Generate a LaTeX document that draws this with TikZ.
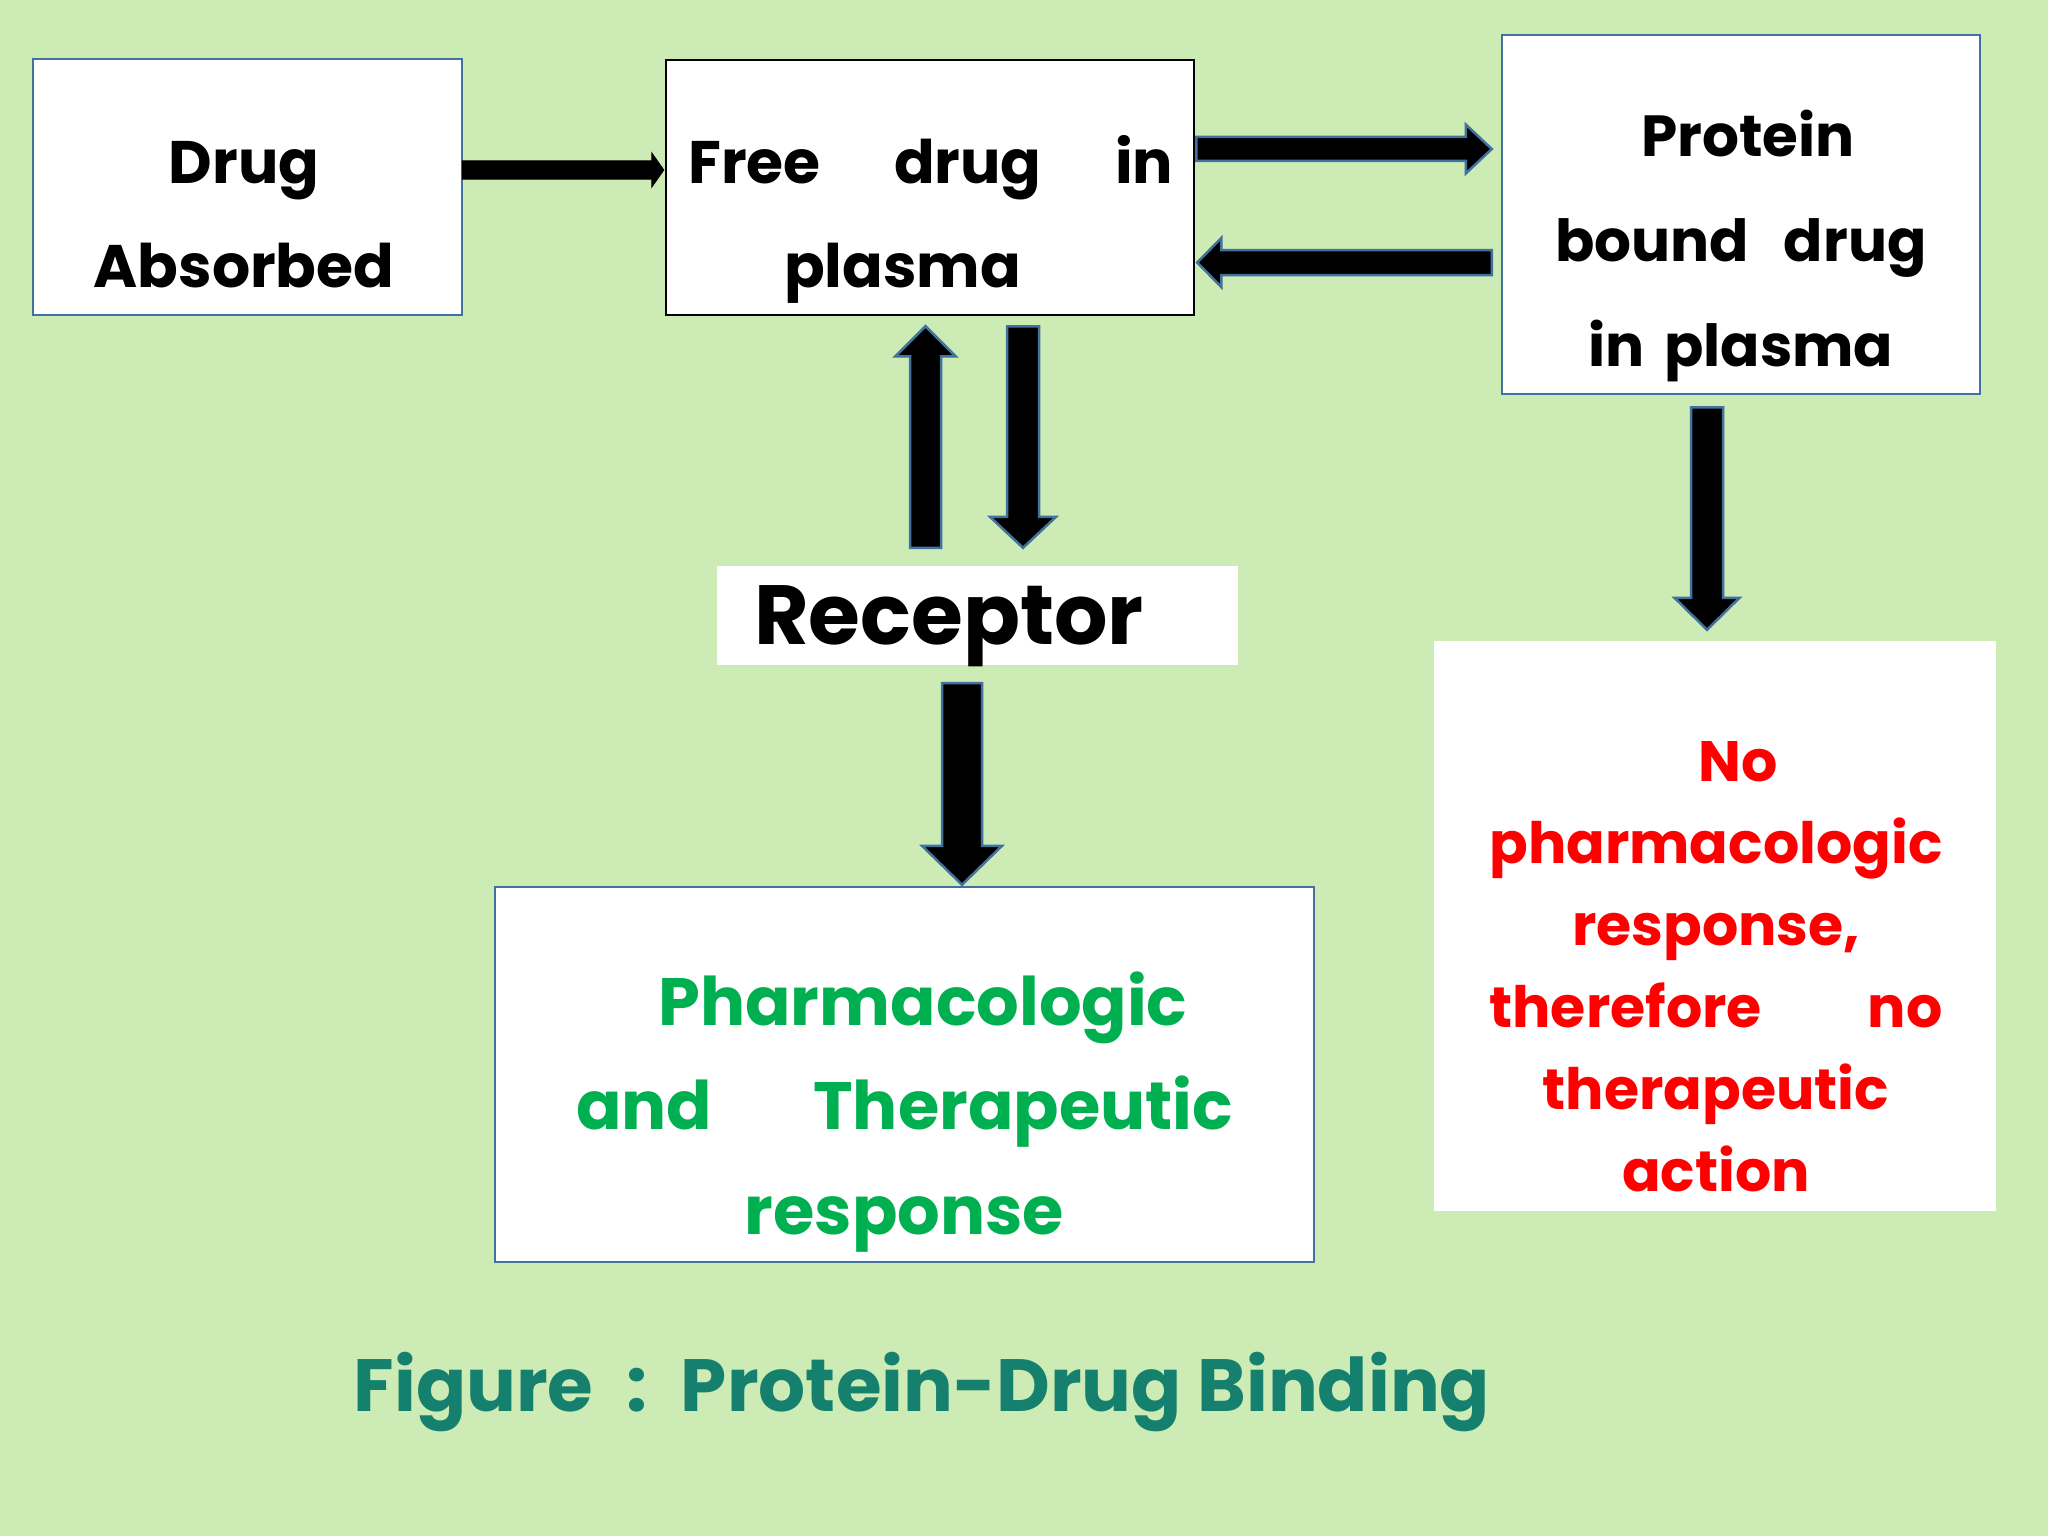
\documentclass[tikz,border=0pt]{standalone}
\usepackage{fontspec}
\setmainfont{Poppins}
\usetikzlibrary{calc}
\definecolor{bg}{HTML}{CDEBB4}
\definecolor{edge}{HTML}{41719C}
\definecolor{txtgreen}{HTML}{00B050}
\definecolor{txtred}{HTML}{FF0000}
\definecolor{captc}{HTML}{16806E}
\newlength{\jwidth}
\tikzset{
  box/.style={draw=edge, line width=2.5pt, fill=white, inner sep=0pt},
  plainbox/.style={fill=white, draw=none, inner sep=0pt},
  lbl/.style={inner sep=0pt, anchor=base, align=center},
  barrow/.style={fill=black, draw=edge, line width=2.5pt, line join=miter},
}
% horizontal block arrow: tail, tip, half shaft, half head, head length
\newcommand\harr[6][]{%
  \draw[barrow,#1] let \p1=#2, \p2=#3, \n1={sign(\x2-\x1)} in
  (\x1,\y1+#4) -- (\x2-\n1*#6,\y1+#4) -- (\x2-\n1*#6,\y1+#5) -- (\x2,\y1)
  -- (\x2-\n1*#6,\y1-#5) -- (\x2-\n1*#6,\y1-#4) -- (\x1,\y1-#4) -- cycle;}
% vertical block arrow
\newcommand\varr[6][]{%
  \draw[barrow,#1] let \p1=#2, \p2=#3, \n1={sign(\y2-\y1)} in
  (\x1+#4,\y1) -- (\x1+#4,\y2-\n1*#6) -- (\x1+#5,\y2-\n1*#6) -- (\x1,\y2)
  -- (\x1-#5,\y2-\n1*#6) -- (\x1-#4,\y2-\n1*#6) -- (\x1-#4,\y1) -- cycle;}
\begin{document}
\begin{tikzpicture}[x=1pt,y=-1pt]
\fill[bg] (0,0) rectangle (2048,1536);
\useasboundingbox (0,0) rectangle (2048,1536);

% boxes
\node[box, minimum width=429pt, minimum height=256pt] (abs) at (247.5,187) {};
\node[box, draw=black, minimum width=528pt, minimum height=255pt] (free) at (930,187.5) {};
\node[box, minimum width=478pt, minimum height=359pt] (prot) at (1741,214.5) {};
\node[plainbox, minimum width=521pt, minimum height=99pt] (rec) at (977.5,615.5) {};
\node[box, minimum width=819pt, minimum height=375pt] (pharm) at (904.5,1074.5) {};
\node[plainbox, minimum width=562pt, minimum height=570pt] (nop) at (1715,926) {};

% texts
\node[lbl, text width=420pt, font=\bfseries\fontsize{60}{104}\selectfont] (absT) at (244,183) {Drug\\Absorbed};
\node[lbl, anchor=base west, text width=485pt, align=left, font=\bfseries\fontsize{60}{104}\selectfont] (freeT) at (688,183)
  {\makebox[485pt]{Free\hfill drug\hfill in}\\\hspace*{96pt}plasma};
\node[lbl, text width=470pt, font=\bfseries\fontsize{58}{105}\selectfont] (protT) at (1741,157)
  {\hspace*{14pt}Protein\\bound\hspace{0.6em}drug\\in plasma};
\node[lbl, font=\bfseries\fontsize{84}{100}\selectfont] (recT) at (949,644) {Receptor};
\node[lbl, text width=800pt, text=txtgreen, font=\bfseries\fontsize{67}{104.5}\selectfont] (pharmT) at (904.5,1025)
  {\hspace*{37pt}Pharmacologic\\\makebox[657pt]{and\hfill Therapeutic}\\response};
\node[lbl, text width=550pt, text=txtred, font=\bfseries\fontsize{57}{82}\selectfont] (nopT) at (1716,781)
  {\hspace*{44pt}No\\pharmacologic\\response,\\\settowidth{\jwidth}{pharmacologic}\makebox[\jwidth]{therefore\hfill no}\\therapeutic\\action};
\node[lbl, text=captc, font=\bfseries\fontsize{74}{90}\selectfont] (cap) at (922,1411) {Figure\hspace{0.45em}:\hspace{0.45em}Protein-Drug Binding};

% connectors (block arrows)
\harr[draw=black, line width=1pt]{($(abs.east)+(-1,-17)$)}{($(free.west)+(-1,-17)$)}{9pt}{17pt}{12pt}
\harr{($(free.east)+(1,-38.5)$)}{($(prot.west)+(-9,-65.5)$)}{12pt}{24.5pt}{26pt}
\harr{($(prot.west)+(-9,48)$)}{($(free.east)+(2,75)$)}{12.5pt}{24.5pt}{24pt}
\varr{($(rec.north)+(-52,-18)$)}{($(free.south)+(-4.5,10)$)}{15.5pt}{30pt}{30pt}
\varr{($(free.south)+(93,10)$)}{($(rec.north)+(45.5,-18)$)}{16pt}{33pt}{31pt}
\varr{($(rec.south)+(-15.5,18)$)}{($(pharm.north)+(57.5,-1)$)}{20pt}{40pt}{39pt}
\varr{($(prot.south)+(-34,12)$)}{($(nop.north)+(-8,-11)$)}{16pt}{32.5pt}{32pt}
\end{tikzpicture}
\end{document}
